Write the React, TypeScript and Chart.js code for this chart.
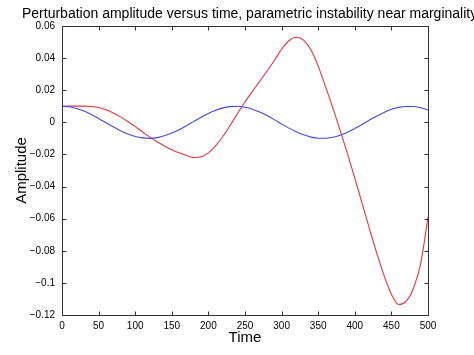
import { useEffect, useRef } from 'react';
import { Chart, registerables } from 'chart.js';

Chart.register(...registerables);

const chartTitle = 'Perturbation amplitude versus time, parametric instability near marginality';
const xAxisTitle = 'Time';
const yAxisTitle = 'Amplitude';

const time = [
  0, 10, 20, 30, 40, 50, 60, 70, 80, 90,
  100, 110, 120, 130, 140, 150, 160, 170, 180, 190,
  200, 210, 220, 230, 240, 250, 260, 270, 280, 290,
  300, 310, 320, 330, 340, 350, 360, 370, 380, 390,
  400, 410, 420, 430, 440, 450, 460, 470, 480, 490, 500,
];

const blueAmplitude = [
  0.0100, 0.0097, 0.0086, 0.0070, 0.0049, 0.0024, -0.0002, -0.0028, -0.0052, -0.0073,
  -0.0088, -0.0097, -0.0100, -0.0095, -0.0084, -0.0067, -0.0046, -0.0021, 0.0006, 0.0032,
  0.0055, 0.0075, 0.0090, 0.0098, 0.0100, 0.0094, 0.0082, 0.0064, 0.0042, 0.0017,
  -0.0010, -0.0036, -0.0059, -0.0078, -0.0092, -0.0099, -0.0099, -0.0093, -0.0080, -0.0061,
  -0.0038, -0.0013, 0.0014, 0.0039, 0.0062, 0.0081, 0.0093, 0.0099, 0.0099, 0.0091, 0.0077,
];

const redAmplitude = [
  0.0100, 0.0101, 0.0101, 0.0101, 0.0099, 0.0092, 0.0078, 0.0058, 0.0034, 0.0005,
  -0.0027, -0.0060, -0.0092, -0.0121, -0.0147, -0.0170, -0.0190, -0.0207, -0.0219, -0.0214,
  -0.0190, -0.0145, -0.0087, -0.0017, 0.0057, 0.0127, 0.0192, 0.0255, 0.0318, 0.0385,
  0.0455, 0.0508, 0.0530, 0.0512, 0.0452, 0.0350, 0.0222, 0.0090, -0.0050, -0.0195,
  -0.0348, -0.0505, -0.0662, -0.0815, -0.0955, -0.1070, -0.1135, -0.1115, -0.1035, -0.0880, -0.0590,
];

const xTicks = [0, 50, 100, 150, 200, 250, 300, 350, 400, 450, 500];
const xTickLabels = ['0', '50', '100', '150', '200', '250', '300', '350', '400', '450', '500'];
const yTicks = [-0.12, -0.1, -0.08, -0.06, -0.04, -0.02, 0, 0.02, 0.04, 0.06];
const yTickLabels = ['\u22120.12', '\u22120.1', '\u22120.08', '\u22120.06', '\u22120.04', '\u22120.02', '0', '0.02', '0.04', '0.06'];

const FONT = '"Liberation Sans", Arial, Helvetica, sans-serif';

const matlabBox = {
  id: 'matlabBox',
  afterDraw(chart: any) {
    const { ctx, chartArea: a, scales } = chart;
    const L = Math.round(a.left) + 0.5;
    const R = Math.round(a.right) + 0.5;
    const T = Math.round(a.top) + 0.5;
    const B = Math.round(a.bottom) + 0.5;
    ctx.save();
    ctx.strokeStyle = '#333333';
    ctx.lineWidth = 1;
    ctx.beginPath();
    ctx.rect(L, T, R - L, B - T);
    const tl = 4;
    for (const v of xTicks) {
      const px = Math.round(scales.x.getPixelForValue(v)) + 0.5;
      ctx.moveTo(px, B);
      ctx.lineTo(px, B - tl);
      ctx.moveTo(px, T);
      ctx.lineTo(px, T + tl);
    }
    for (const v of yTicks) {
      const py = Math.round(scales.y.getPixelForValue(v)) + 0.5;
      ctx.moveTo(L, py);
      ctx.lineTo(L + tl, py);
      ctx.moveTo(R, py);
      ctx.lineTo(R - tl, py);
    }
    ctx.stroke();
    ctx.fillStyle = '#000000';
    ctx.font = '14px ' + FONT;
    ctx.textAlign = 'left';
    ctx.textBaseline = 'alphabetic';
    ctx.fillText(chartTitle, 22, 18);
    ctx.restore();
  },
};

export default function App() {
  const ref = useRef<HTMLCanvasElement | null>(null);

  useEffect(() => {
    document.body.style.margin = '0';
    const canvas = ref.current;
    if (!canvas) return;
    const chart = new Chart(canvas, {
      type: 'line',
      data: {
        datasets: [
          {
            label: 'blue',
            data: time.map((t, i) => ({ x: t, y: blueAmplitude[i] })),
            borderColor: 'rgb(70,70,235)',
            borderWidth: 1.1,
            pointRadius: 0,
            fill: false,
            cubicInterpolationMode: 'monotone',
          },
          {
            label: 'red',
            data: time.map((t, i) => ({ x: t, y: redAmplitude[i] })),
            borderColor: 'rgb(228,55,65)',
            borderWidth: 1.1,
            pointRadius: 0,
            fill: false,
            cubicInterpolationMode: 'monotone',
          },
        ],
      },
      options: {
        animation: false,
        responsive: false,
        maintainAspectRatio: false,
        layout: { padding: { top: 26, right: 46, left: 0, bottom: 0 } },
        plugins: {
          legend: { display: false },
          tooltip: { enabled: false },
          title: { display: false },
        },
        scales: {
          x: {
            type: 'linear',
            min: 0,
            max: 500,
            grid: { display: false, drawTicks: false },
            border: { display: false },
            afterBuildTicks: (s: any) => {
              s.ticks = xTicks.map((v) => ({ value: v }));
            },
            afterFit: (s: any) => {
              s.height = 40;
            },
            ticks: {
              color: '#000',
              padding: 5,
              maxRotation: 0,
              autoSkip: false,
              font: { family: FONT, size: 10 },
              callback: (v: any) => {
                const i = xTicks.indexOf(Number(v));
                return i >= 0 ? xTickLabels[i] : '';
              },
            },
            title: {
              display: true,
              text: xAxisTitle,
              color: '#000',
              font: { family: FONT, size: 15 },
              padding: { top: 0, bottom: 8 },
            },
          },
          y: {
            type: 'linear',
            min: -0.12,
            max: 0.06,
            grid: { display: false, drawTicks: false },
            border: { display: false },
            afterBuildTicks: (s: any) => {
              s.ticks = yTicks.map((v) => ({ value: v }));
            },
            afterFit: (s: any) => {
              s.width = 62;
            },
            ticks: {
              color: '#000',
              padding: 7,
              autoSkip: false,
              font: { family: FONT, size: 10 },
              callback: (v: any) => {
                const i = yTicks.findIndex((t) => Math.abs(t - Number(v)) < 1e-9);
                return i >= 0 ? yTickLabels[i] : '';
              },
            },
            title: {
              display: true,
              text: yAxisTitle,
              color: '#000',
              font: { family: FONT, size: 15 },
              padding: { top: 13, bottom: 0 },
            },
          },
        },
      },
      plugins: [matlabBox],
    } as any);
    return () => chart.destroy();
  }, []);

  return <canvas ref={ref} width={474} height={355} style={{ display: 'block', width: 474, height: 355 }} />;
}
